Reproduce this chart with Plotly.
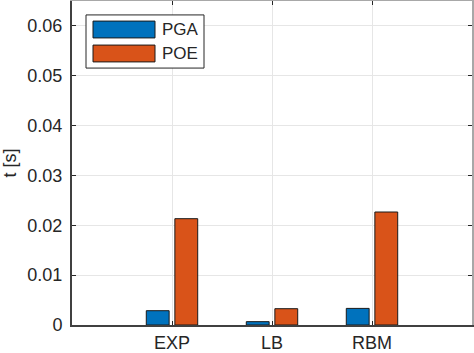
import plotly.graph_objects as go

categories = ["EXP", "LB", "RBM"]
pga = [0.00287, 0.00067, 0.00333]
poe = [0.02133, 0.00327, 0.02267]
y_ticks = [0, 0.01, 0.02, 0.03, 0.04, 0.05, 0.06]
y_ticklabels = ["0", "0.01", "0.02", "0.03", "0.04", "0.05", "0.06"]
series_names = ["PGA", "POE"]
colors = ["#0072BD", "#D95319"]

FONT = "Liberation Sans, Arial, Helvetica, sans-serif"
DARK = "#262626"

fig = go.Figure()
for name, vals, col in zip(series_names, [pga, poe], colors):
    fig.add_trace(go.Bar(x=categories, y=vals, name=name, marker=dict(color=col, line=dict(color="#1a1a1a", width=1)),
                         showlegend=False))

fig.update_layout(
    width=474, height=353,
    margin=dict(l=72, r=2, t=1, b=28),
    paper_bgcolor="white", plot_bgcolor="white",
    barmode="group", bargap=0.4286, bargroupgap=0.2,
    font=dict(family=FONT, size=18, color=DARK),
    xaxis=dict(type="category", range=[-1, 3], showgrid=True, gridcolor="#e6e6e6", gridwidth=1,
               showline=True, linecolor="#404040", linewidth=2, ticks="inside", ticklen=4,
               tickcolor=DARK, zeroline=False, tickfont=dict(size=18, color=DARK)),
    yaxis=dict(range=[0, 0.065], tickvals=y_ticks, ticktext=y_ticklabels, showgrid=True,
               gridcolor="#e6e6e6", gridwidth=1, showline=True, linecolor="#404040", linewidth=2,
               ticks="inside", ticklen=4, tickcolor=DARK, zeroline=False, ticklabelstandoff=4,
               tickfont=dict(size=18, color=DARK),
               title=dict(text="t [s]", font=dict(size=18, color=DARK), standoff=6)),
    xaxis2=dict(type="linear", range=[-1, 3], tickvals=[0, 1, 2], showticklabels=False, overlaying="x",
                side="top", showline=True, linecolor="#a8a8a8", linewidth=2, ticks="inside", ticklen=4,
                tickcolor=DARK, showgrid=False, zeroline=False),
    yaxis2=dict(range=[0, 0.065], tickvals=y_ticks, showticklabels=False, overlaying="y", side="right",
                showline=True, linecolor="#a8a8a8", linewidth=2, ticks="inside", ticklen=4,
                tickcolor=DARK, showgrid=False, zeroline=False),
)
fig.add_trace(go.Scatter(x=[None], y=[None], xaxis="x2", yaxis="y2", showlegend=False, hoverinfo="skip"))

# manual MATLAB-style legend
fig.add_shape(type="rect", xref="paper", yref="paper", x0=0.035, x1=0.33, y0=0.793, y1=0.957,
              line=dict(color=DARK, width=1), fillcolor="white", layer="above")
sw_y = [(0.886, 0.938), (0.812, 0.864)]
for (y0, y1), name, col in zip(sw_y, series_names, colors):
    fig.add_shape(type="rect", xref="paper", yref="paper", x0=0.0525, x1=0.2075, y0=y0, y1=y1,
                  line=dict(color="#1a1a1a", width=1), fillcolor=col, layer="above")
    fig.add_annotation(xref="paper", yref="paper", x=0.22, y=(y0 + y1) / 2, text=name, showarrow=False,
                       xanchor="left", yanchor="middle", font=dict(size=17, color=DARK, family=FONT))

fig.write_html("out.html")
